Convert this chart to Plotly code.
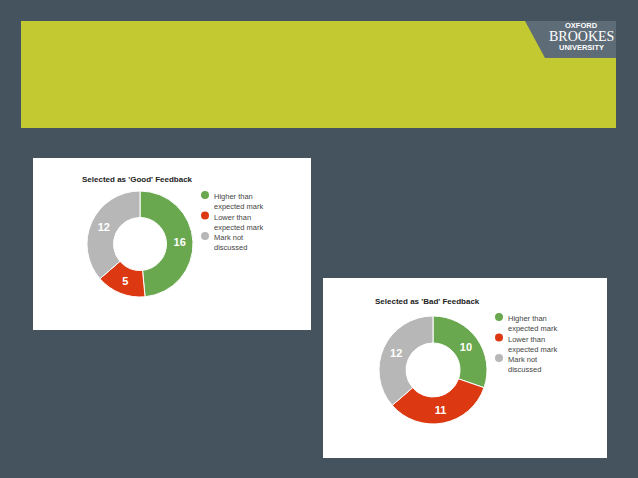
import plotly.graph_objects as go

# ---- data ----
categories = ["Higher than expected mark", "Lower than expected mark", "Mark not discussed"]
legend_lines = [["Higher than", "expected mark"], ["Lower than", "expected mark"], ["Mark not", "discussed"]]
good_values = [16, 5, 12]
bad_values = [10, 11, 12]
chart_titles = ["Selected as 'Good' Feedback", "Selected as 'Bad' Feedback"]
slice_colors = ["#6aa84f", "#dc3912", "#b7b7b7"]

W, H = 638, 478
BG = "#44535e"

def px_domain(cx, cy, r):
    return dict(x=[(cx - r) / W, (cx + r) / W], y=[(H - cy - r) / H, (H - cy + r) / H])

fig = go.Figure()

panels = [
    dict(box=(33, 158, 311, 330), c=(140, 244), r=53, title=(137, 179), leg=(205, 195), values=good_values, title_text=chart_titles[0]),
    dict(box=(323, 278, 607, 458), c=(433, 370), r=54, title=(427, 301), leg=(499, 317), values=bad_values, title_text=chart_titles[1]),
]

shapes = []
annotations = []

# banner
shapes.append(dict(type="rect", xref="x", yref="y", x0=21, x1=616, y0=21, y1=128,
                   fillcolor="#c3c930", line=dict(width=0), layer="below"))
# logo block
shapes.append(dict(type="path", xref="x", yref="y",
                   path="M 525 21 L 616 21 L 616 58 L 545 58 Z",
                   fillcolor="#5e6c77", line=dict(width=0), layer="below"))
annotations += [
    dict(x=581, y=25, xref="x", yref="y", text="<b>OXFORD</b>", showarrow=False,
         font=dict(family="Liberation Sans, Arial", size=7.5, color="white")),
    dict(x=581, y=36, xref="x", yref="y", text="BROOKES", showarrow=False,
         font=dict(family="Liberation Serif, Times New Roman", size=14, color="white")),
    dict(x=581, y=47, xref="x", yref="y", text="<b>UNIVERSITY</b>", showarrow=False,
         font=dict(family="Liberation Sans, Arial", size=7.5, color="white")),
]

for p in panels:
    l, t, r_, b = p["box"]
    shapes.append(dict(type="rect", xref="x", yref="y", x0=l, x1=r_, y0=t, y1=b,
                       fillcolor="white", line=dict(width=0), layer="below"))
    annotations.append(dict(x=p["title"][0], y=p["title"][1], xref="x", yref="y",
                            text="<b>" + p["title_text"] + "</b>", showarrow=False,
                            font=dict(family="Liberation Sans, Arial", size=8, color="#222")))
    fig.add_trace(go.Pie(
        labels=categories, values=p["values"], sort=False, direction="clockwise",
        rotation=0, hole=0.5, domain=px_domain(p["c"][0], p["c"][1], p["r"]),
        marker=dict(colors=slice_colors, line=dict(color="white", width=1)),
        textinfo="value", textposition="inside", insidetextorientation="horizontal",
        textfont=dict(family="Liberation Sans, Arial", size=11, color="white", weight="bold"),
        showlegend=False, hoverinfo="label+value",
    ))
    lx, ly = p["leg"]
    for i, lines in enumerate(legend_lines):
        yy = ly + i * 20.5
        shapes.append(dict(type="circle", xref="x", yref="y", x0=lx - 4, x1=lx + 4,
                           y0=yy - 4, y1=yy + 4, fillcolor=slice_colors[i], line=dict(width=0)))
        annotations.append(dict(x=lx + 7, y=yy - 5, xref="x", yref="y", xanchor="left", yanchor="top",
                                text="<br>".join(lines), showarrow=False, align="left",
                                font=dict(family="Liberation Sans, Arial", size=7.5, color="#444")))

fig.update_layout(
    width=W, height=H, margin=dict(l=0, r=0, t=0, b=0),
    paper_bgcolor=BG, plot_bgcolor=BG,
    xaxis=dict(range=[0, W], visible=False, domain=[0, 1], fixedrange=True),
    yaxis=dict(range=[H, 0], visible=False, domain=[0, 1], fixedrange=True),
    shapes=shapes, annotations=annotations, showlegend=False,
)
fig.write_html("out.html")
